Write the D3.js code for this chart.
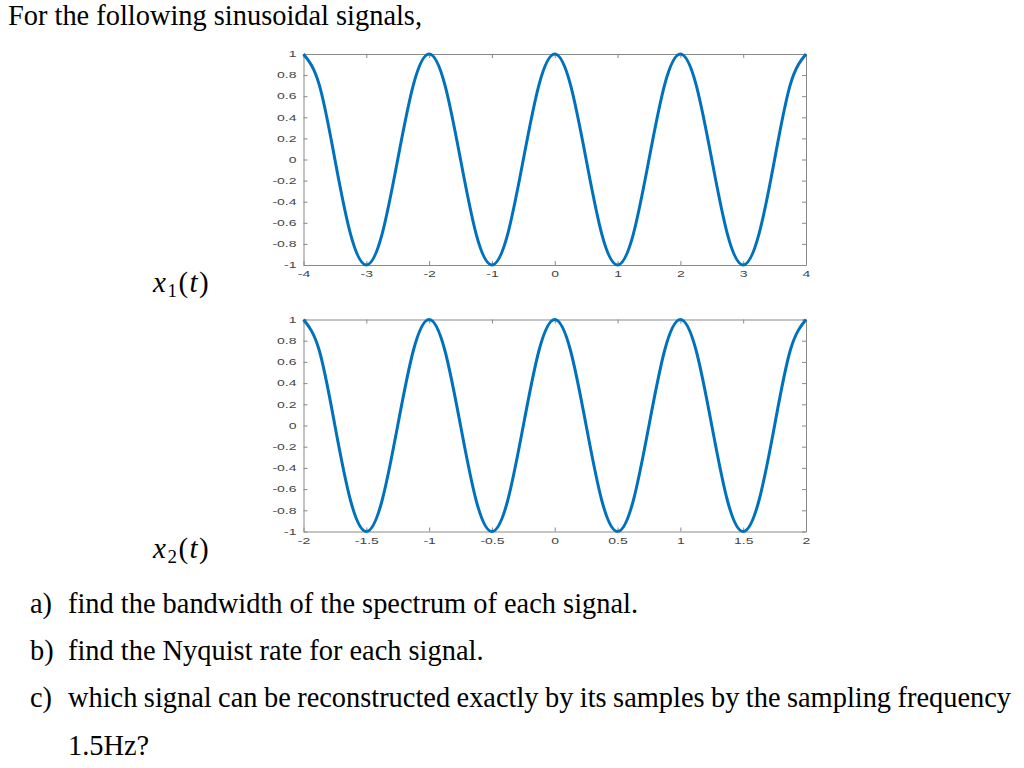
<!DOCTYPE html>
<html>
<head>
<meta charset="utf-8">
<script src="https://cdn.jsdelivr.net/npm/d3@7.9.0/dist/d3.min.js"></script>
<style>
  html, body { margin: 0; padding: 0; background: #fff; }
  svg { display: block; }
  .serif { font-family: "Liberation Serif", "Times New Roman", serif; fill: #000; }
  .tick text { font-family: "Liberation Sans", Arial, sans-serif; fill: #444; }
</style>
</head>
<body>
<svg id="page" width="1024" height="768"></svg>
<script>
// sample times (1/8 of a period apart)
const t1 = [-4, -3.75, -3.5, -3.25, -3, -2.75, -2.5, -2.25, -2, -1.75, -1.5, -1.25, -1, -0.75, -0.5, -0.25,
            0, 0.25, 0.5, 0.75, 1, 1.25, 1.5, 1.75, 2, 2.25, 2.5, 2.75, 3, 3.25, 3.5, 3.75, 4];
const x1 = [1, 0.71, 0, -0.71, -1, -0.71, 0, 0.71, 1, 0.71, 0, -0.71, -1, -0.71, 0, 0.71,
            1, 0.71, 0, -0.71, -1, -0.71, 0, 0.71, 1, 0.71, 0, -0.71, -1, -0.71, 0, 0.71, 1];
const t2 = [-2, -1.875, -1.75, -1.625, -1.5, -1.375, -1.25, -1.125, -1, -0.875, -0.75, -0.625, -0.5, -0.375, -0.25, -0.125,
            0, 0.125, 0.25, 0.375, 0.5, 0.625, 0.75, 0.875, 1, 1.125, 1.25, 1.375, 1.5, 1.625, 1.75, 1.875, 2];
const x2 = [1, 0.71, 0, -0.71, -1, -0.71, 0, 0.71, 1, 0.71, 0, -0.71, -1, -0.71, 0, 0.71,
            1, 0.71, 0, -0.71, -1, -0.71, 0, 0.71, 1, 0.71, 0, -0.71, -1, -0.71, 0, 0.71, 1];

const yTicks = [-1, -0.8, -0.6, -0.4, -0.2, 0, 0.2, 0.4, 0.6, 0.8, 1];
const xTicks1 = [-4, -3, -2, -1, 0, 1, 2, 3, 4];
const xTicks2 = [-2, -1.5, -1, -0.5, 0, 0.5, 1, 1.5, 2];

const heading = "For the following sinusoidal signals,";
const items = [
  ["a)", "find the bandwidth of the spectrum of each signal."],
  ["b)", "find the Nyquist rate for each signal."],
  ["c)", "which signal can be reconstructed exactly by its samples by the sampling frequency"],
  ["", "1.5Hz?"]
];

const svg = d3.select('#page');
const fmt = d => String(+d.toFixed(1));
const stretch = 1.65; // tick labels in the picture are stretched sideways
const axisColor = '#8a8a8a';
const bodySize = 28.4;

function panel(top, bottom, tVals, xVals, xTicks, xDomain){
    const left = 303.5, right = 806;
    const x = d3.scaleLinear().domain(xDomain).range([left, right]);
    const y = d3.scaleLinear().domain([-1, 1]).range([bottom, top]);
    const g = svg.append('g');

    const styleAxis = sel => {
        sel.select('.domain').attr('stroke', axisColor).attr('stroke-width', 1);
        sel.selectAll('.tick line').attr('stroke', axisColor).attr('stroke-width', 1);
    };

    // left
    g.append('g').attr('transform', `translate(${left},0)`)
      .call(d3.axisLeft(y).tickValues(yTicks).tickFormat(fmt).tickSizeInner(-4).tickSizeOuter(0).tickPadding(7))
      .call(styleAxis)
      .call(a => a.selectAll('text')
          .attr('font-size', 8.5)
          .attr('x', function(){ return +d3.select(this).attr('x') / stretch; })
          .attr('transform', `scale(${stretch},1)`));
    // right
    g.append('g').attr('transform', `translate(${right},0)`)
      .call(d3.axisRight(y).tickValues(yTicks).tickFormat('').tickSizeInner(-4).tickSizeOuter(0))
      .call(styleAxis);
    // top
    g.append('g').attr('transform', `translate(0,${top})`)
      .call(d3.axisTop(x).tickValues(xTicks).tickFormat('').tickSizeInner(-4).tickSizeOuter(0))
      .call(styleAxis);
    // bottom
    g.append('g').attr('transform', `translate(0,${bottom})`)
      .call(d3.axisBottom(x).tickValues(xTicks).tickFormat(fmt).tickSizeInner(-4).tickSizeOuter(0).tickPadding(6))
      .call(styleAxis)
      .call(a => a.selectAll('text')
          .attr('font-size', 8.5)
          .attr('transform', `scale(${stretch},1)`));

    const line = d3.line()
        .x((d, i) => x(tVals[i]))
        .y(d => y(d))
        .curve(d3.curveNatural);
    g.append('path')
      .datum(xVals)
      .attr('d', line)
      .attr('fill', 'none')
      .attr('stroke', '#0072BD')
      .attr('stroke-width', 3)
      .attr('stroke-linejoin', 'round');
}

panel(54, 265, t1, x1, xTicks1, [-4, 4]);
panel(319.5, 531.5, t2, x2, xTicks2, [-2, 2]);

// signal labels x1(t), x2(t)
function signalLabel(sub, yBase){
    const t = svg.append('text').attr('class', 'serif').attr('x', 153).attr('y', yBase)
      .attr('font-size', 29).style('letter-spacing', '1.5px');
    t.append('tspan').attr('font-style', 'italic').text('x');
    t.append('tspan').attr('font-size', 19).attr('dy', 5).text(sub);
    t.append('tspan').attr('dy', -5).text('(');
    t.append('tspan').attr('font-style', 'italic').text('t');
    t.append('tspan').text(')');
}
signalLabel('1', 292);
signalLabel('2', 558);

// text
svg.append('text').attr('class', 'serif')
  .attr('x', 8).attr('y', 25).attr('font-size', bodySize)
  .text(heading);

const baselines = [613, 660, 707, 755];
items.forEach(([mark, txt], i) => {
    if (mark) {
        svg.append('text').attr('class', 'serif')
          .attr('x', 30).attr('y', baselines[i]).attr('font-size', bodySize).text(mark);
    }
    const el = svg.append('text').attr('class', 'serif')
      .attr('x', 68).attr('y', baselines[i]).attr('font-size', bodySize).text(txt);
    // line c) is justified out to the right margin
    if (i === 2) {
        const w = el.node().getComputedTextLength();
        const gaps = txt.split(' ').length - 1;
        el.style('word-spacing', ((1011 - 68 - w) / gaps) + 'px');
    }
});
</script>
</body>
</html>
